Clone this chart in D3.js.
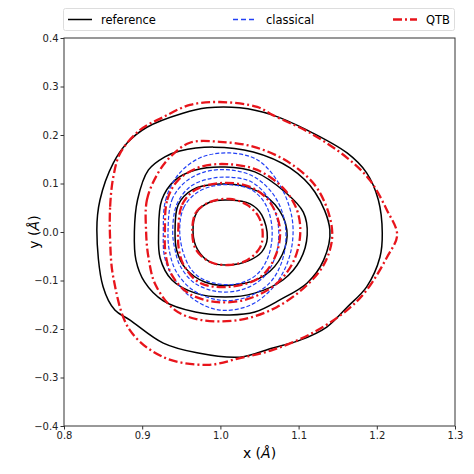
<!DOCTYPE html>
<html>
<head>
<meta charset="utf-8">
<script src="https://cdn.jsdelivr.net/npm/d3@7"></script>
<style>
body { margin: 0; background: #fff; }
text { font-family: "DejaVu Sans", sans-serif; }
</style>
</head>
<body>
<div id="chart"></div>
<script>
// contour lines, [x, y] in Angstrom

const refLevel1 = [[0.842,0.004],[0.846,0.066],[0.863,0.142],[0.881,0.184],[0.906,0.216],[0.952,0.245],[0.983,0.256],[1.025,0.256],[1.067,0.241],[1.111,0.210],[1.162,0.163],[1.187,0.122],[1.202,0.066],[1.207,-0.002],[1.204,-0.052],[1.187,-0.113],[1.162,-0.155],[1.136,-0.196],[1.102,-0.223],[1.067,-0.239],[1.025,-0.258],[0.970,-0.249],[0.927,-0.229],[0.884,-0.181],[0.865,-0.161],[0.850,-0.113]];
const refLevel2 = [[0.890,0.000],[0.894,0.066],[0.908,0.128],[0.929,0.155],[0.948,0.167],[0.991,0.175],[1.042,0.165],[1.089,0.132],[1.121,0.082],[1.140,0.004],[1.132,-0.058],[1.111,-0.105],[1.076,-0.140],[1.044,-0.165],[1.012,-0.171],[0.968,-0.165],[0.927,-0.142],[0.903,-0.103],[0.892,-0.058]];
const refLevel3 = [[0.921,0.000],[0.925,0.066],[0.942,0.107],[0.968,0.128],[1.006,0.134],[1.044,0.124],[1.083,0.082],[1.106,0.041],[1.111,-0.006],[1.102,-0.058],[1.080,-0.099],[1.044,-0.126],[1.006,-0.134],[0.968,-0.126],[0.938,-0.099],[0.923,-0.054]];
const refLevel4 = [[0.942,0.000],[0.946,0.056],[0.964,0.087],[0.999,0.099],[1.038,0.091],[1.070,0.056],[1.085,0.004],[1.079,-0.047],[1.057,-0.089],[1.019,-0.109],[0.980,-0.103],[0.955,-0.074],[0.944,-0.037]];
const refLevel5 = [[0.965,0.000],[0.970,0.041],[0.987,0.062],[1.012,0.066],[1.038,0.058],[1.053,0.035],[1.060,-0.012],[1.053,-0.041],[1.035,-0.060],[1.012,-0.068],[0.987,-0.062],[0.971,-0.037]];

const clsLevel1 = [[0.927,0.000],[0.930,0.066],[0.946,0.118],[0.974,0.153],[1.012,0.163],[1.048,0.148],[1.076,0.097],[1.092,0.025],[1.089,-0.047],[1.070,-0.109],[1.038,-0.151],[0.999,-0.161],[0.967,-0.140],[0.942,-0.099],[0.929,-0.054]];
const clsLevel2 = [[0.933,0.000],[0.938,0.066],[0.955,0.103],[0.980,0.124],[1.012,0.128],[1.044,0.113],[1.070,0.072],[1.083,0.014],[1.080,-0.054],[1.063,-0.105],[1.031,-0.136],[0.997,-0.140],[0.965,-0.120],[0.944,-0.083],[0.935,-0.041]];
const clsLevel3 = [[0.939,0.000],[0.944,0.056],[0.961,0.093],[0.984,0.109],[1.012,0.113],[1.040,0.103],[1.063,0.066],[1.074,0.014],[1.071,-0.047],[1.054,-0.095],[1.025,-0.120],[0.993,-0.122],[0.965,-0.103],[0.948,-0.068],[0.942,-0.037]];
const clsLevel4 = [[0.948,0.000],[0.953,0.050],[0.969,0.080],[0.991,0.095],[1.015,0.097],[1.040,0.087],[1.058,0.056],[1.066,0.008],[1.062,-0.047],[1.047,-0.087],[1.021,-0.107],[0.991,-0.105],[0.968,-0.087],[0.955,-0.054]];

const qtbLevel1 = [[0.859,-0.016],[0.859,0.052],[0.863,0.113],[0.872,0.163],[0.897,0.210],[0.927,0.237],[0.961,0.262],[0.999,0.268],[1.047,0.258],[1.067,0.241],[1.115,0.204],[1.162,0.153],[1.191,0.107],[1.213,0.045],[1.226,-0.006],[1.213,-0.052],[1.187,-0.120],[1.162,-0.161],[1.118,-0.208],[1.067,-0.243],[1.025,-0.260],[0.983,-0.274],[0.927,-0.258],[0.884,-0.202],[0.863,-0.093]];
const qtbLevel2 = [[0.905,0.000],[0.906,0.066],[0.919,0.118],[0.936,0.155],[0.961,0.184],[0.999,0.186],[1.044,0.175],[1.089,0.142],[1.125,0.087],[1.143,0.000],[1.134,-0.062],[1.111,-0.109],[1.072,-0.155],[1.025,-0.181],[0.974,-0.181],[0.942,-0.161],[0.917,-0.109],[0.908,-0.052]];
const qtbLevel3 = [[0.929,0.000],[0.932,0.066],[0.946,0.107],[0.974,0.134],[1.008,0.140],[1.047,0.128],[1.080,0.091],[1.098,0.045],[1.102,-0.006],[1.093,-0.062],[1.070,-0.109],[1.031,-0.140],[0.993,-0.144],[0.959,-0.126],[0.938,-0.089],[0.930,-0.047]];
const qtbLevel4 = [[0.946,0.000],[0.951,0.056],[0.968,0.087],[1.002,0.101],[1.038,0.093],[1.063,0.062],[1.076,0.008],[1.071,-0.047],[1.051,-0.093],[1.012,-0.113],[0.974,-0.105],[0.953,-0.068],[0.947,-0.037]];
const qtbLevel5 = [[0.964,0.000],[0.969,0.041],[0.987,0.062],[1.012,0.068],[1.034,0.056],[1.049,0.031],[1.054,0.000],[1.051,-0.031],[1.034,-0.058],[1.010,-0.068],[0.987,-0.062],[0.969,-0.037]];

const xTicks = [0.8, 0.9, 1.0, 1.1, 1.2, 1.3];
const yTicks = [-0.4, -0.3, -0.2, -0.1, 0.0, 0.1, 0.2, 0.3, 0.4];
const seriesNames = ['reference', 'classical', 'QTB'];

const width = 474, height = 474;
const mLeft = 64, mRight = 455, mTop = 38, mBottom = 426;

const svg = d3.select('#chart')
    .append('svg')
    .attr('width', width)
    .attr('height', height);

let scaleX = d3.scaleLinear().domain([0.8, 1.3]).range([mLeft, mRight]);
let scaleY = d3.scaleLinear().domain([-0.4, 0.4]).range([mBottom, mTop]);

const fmt = d => d3.format('.1f')(d).replace('-', '\u2212');

let xAxis = d3.axisBottom(scaleX).tickValues(xTicks).tickFormat(fmt).tickSize(3.5).tickPadding(2);
let yAxis = d3.axisLeft(scaleY).tickValues(yTicks).tickFormat(fmt).tickSize(3.5).tickPadding(2);

const styles = {
    reference: { color: '#000000', width: 1.5, dash: null },
    classical: { color: '#2240f5', width: 1.2, dash: '4,2' },
    QTB: { color: '#e8141b', width: 2.3, dash: '9,3,2,3' }
};

const groups = [
    { name: 'reference', levels: [refLevel1, refLevel2, refLevel3, refLevel4, refLevel5] },
    { name: 'classical', levels: [clsLevel1, clsLevel2, clsLevel3, clsLevel4] },
    { name: 'QTB', levels: [qtbLevel1, qtbLevel2, qtbLevel3, qtbLevel4, qtbLevel5] }
];

let line = d3.line()
    .x(d => scaleX(d[0]))
    .y(d => scaleY(d[1]))
    .curve(d3.curveCatmullRomClosed.alpha(0.5));

groups.forEach(g => {
    const s = styles[g.name];
    svg.append('g')
        .attr('class', 'contours ' + g.name)
        .selectAll('path')
        .data(g.levels)
        .enter()
        .append('path')
        .attr('d', line)
        .style('fill', 'none')
        .style('stroke', s.color)
        .style('stroke-width', s.width)
        .style('stroke-dasharray', s.dash);
});

// frame
svg.append('rect')
    .attr('x', mLeft).attr('y', mTop)
    .attr('width', mRight - mLeft).attr('height', mBottom - mTop)
    .style('fill', 'none')
    .style('stroke', '#333')
    .style('stroke-width', 1);

var xAxisGroup = svg.append('g')
    .attr('class', 'x axis')
    .attr('transform', 'translate(0,' + mBottom + ')')
    .call(xAxis);

var yAxisGroup = svg.append('g')
    .attr('class', 'y axis')
    .attr('transform', 'translate(' + mLeft + ',0)')
    .call(yAxis);

[xAxisGroup, yAxisGroup].forEach(a => {
    a.select('.domain').remove();
    a.selectAll('line').style('stroke', '#333');
    a.selectAll('text').style('font-size', '10px').style('fill', '#222').style('font-family', 'DejaVu Sans');
});

svg.append('text')
    .attr('x', (mLeft + mRight) / 2)
    .attr('y', 458)
    .style('text-anchor', 'middle')
    .style('font-size', '14px')
    .html('x (<tspan font-style="italic">Å</tspan>)');

svg.append('text')
    .attr('transform', 'translate(39,' + (mTop + mBottom) / 2 + ') rotate(-90)')
    .style('text-anchor', 'middle')
    .style('font-size', '14px')
    .html('y (<tspan font-style="italic">Å</tspan>)');

// legend across the top
const legend = svg.append('g').attr('class', 'legend');
legend.append('rect')
    .attr('x', 63.5).attr('y', 8.5)
    .attr('width', 391).attr('height', 22)
    .attr('rx', 2)
    .style('fill', '#fff')
    .style('stroke', '#ddd');

const legX = [68, 233, 393];
seriesNames.forEach((n, i) => {
    const s = styles[n];
    legend.append('line')
        .attr('x1', legX[i]).attr('x2', legX[i] + 24)
        .attr('y1', 19.5).attr('y2', 19.5)
        .style('stroke', s.color)
        .style('stroke-width', n === 'classical' ? 1.6 : s.width)
        .style('stroke-dasharray', n === 'classical' ? '5,3' : s.dash);
    legend.append('text')
        .attr('x', legX[i] + 33)
        .attr('y', 23.5)
        .style('font-size', '11.5px')
        .text(n);
});
</script>
</body>
</html>
